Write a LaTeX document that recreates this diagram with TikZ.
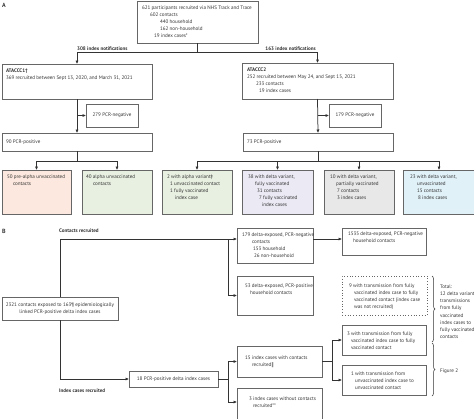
\documentclass[tikz,border=0pt]{standalone}
\usepackage{fontspec}
\setmainfont{PT Sans}
\newfontfamily\symfont{DejaVu Sans}
\usepackage{xcolor}
\usetikzlibrary{arrows.meta,decorations.pathreplacing,calc}

\definecolor{txt}{HTML}{333333}
\definecolor{edge}{HTML}{666666}
\definecolor{salmon}{HTML}{FCE8DE}
\definecolor{leaf}{HTML}{E8F0E1}
\definecolor{lilac}{HTML}{EBE9F4}
\definecolor{pale}{HTML}{E8E8E8}
\definecolor{sky}{HTML}{E0F1F8}

% box text: [top gap]{left gap}{width}{height}{lines}
\newcommand{\bt}[5][3]{\parbox[c][#4pt][t]{#3pt}{\vspace*{#1pt}\hspace*{#2pt}\begin{tabular}[t]{@{}l@{}}#5\end{tabular}}}
\newcommand{\ind}[1]{\hspace*{#1pt}}

\tikzset{
  box/.style={draw=edge, line width=0.75pt, anchor=north west, inner sep=0pt, outer sep=0pt,
    text=txt, font=\fontsize{5.1}{7.2}\selectfont},
  line/.style={draw=txt, line width=0.75pt},
  arr/.style={line, -{Latex[length=3.5pt,width=3.2pt]}},
  lbl/.style={text=txt, inner sep=0pt, font=\fontsize{5.1}{7.2}\selectfont\bfseries},
  note/.style={text=txt, inner sep=0pt, font=\fontsize{5.1}{7.2}\selectfont}
}

\begin{document}
\begin{tikzpicture}[x=1pt,y=-1pt]
    \useasboundingbox (0,0) rectangle (474,418);
    % Panneau A
    \node[lbl, anchor=base west, font=\fontsize{6}{7}\selectfont\bfseries] (pA) at (2,7) {A};
    \node[box] (top) at (137,1) {\bt{5}{121}{42}{621 participants recruited via NHS Track and Trace\\\ind{8}602 contacts\\\ind{18}440 household\\\ind{18}162 non-household\\\ind{12}19 index cases*}};
    \node[box] (atac1) at (2,64) {\bt{4}{150}{35}{\textbf{ATACCC1†}\\369 recruited between Sept 13, 2020, and March 31, 2021}};
    \node[box] (atac2) at (242,63) {\bt{5}{151}{36}{\textbf{ATACCC2}\\252 recruited between May 24, and Sept 15, 2021\\\ind{9}233 contacts\\\ind{12}19 index cases}};
    \node[lbl, anchor=base west] (n308) at (77,50) {308 index notifications};
    \node[lbl, anchor=base east] (n163) at (316,50) {163 index notifications};
    \node[box, minimum width=52pt, minimum height=23pt] (neg1) at (86,104) {279 PCR-negative};
    \node[box, minimum width=52pt, minimum height=23pt] (neg2) at (329,104) {179 PCR-negative};
    \node[box, minimum width=150pt, minimum height=18pt] (pos1) at (2,133) {\makebox[142pt][l]{90 PCR-positive}};
    \node[box, minimum width=150pt, minimum height=18pt] (pos2) at (243,133) {\makebox[142pt][l]{73 PCR-positive}};
    % Boites colorees
    \node[box, fill=salmon] (pre) at (2,170) {\bt{5}{69}{44}{50 pre-alpha unvaccinated\\\ind{6}contacts}};
    \node[box, fill=leaf] (alpha) at (82,170) {\bt{4}{70}{44}{40 alpha unvaccinated\\\ind{7}contacts}};
    \node[box, fill=leaf] (alpha2) at (162,170) {\bt{5}{70}{44}{2 with alpha variant‡\\\ind{3}1 unvaccinated contact\\\ind{3}1 fully vaccinated\\\ind{8}index case}};
    \node[box, fill=lilac] (dfull) at (242,170) {\bt{6}{71}{44}{38 with delta variant,\\\ind{7}fully vaccinated\\\ind{9}31 contacts\\\ind{11}7 fully vaccinated\\\ind{14}index cases}};
    \node[box, fill=pale] (dpart) at (324,170) {\bt{6}{70}{44}{10 with delta variant,\\\ind{6}partially vaccinated\\\ind{7}7 contacts\\\ind{7}3 index cases}};
    \node[box, fill=sky] (dun) at (403,170) {\bt{7}{72}{44}{23 with delta variant,\\\ind{7}unvaccinated\\\ind{7}15 contacts\\\ind{8}8 index cases}};
    % Liens A
    \draw[line] (top.south) -- ++(0,9) coordinate (jA);
    \draw[arr] (jA) -| (atac1.north);
    \draw[arr] (jA) -| (atac2.north);
    \draw[arr] (atac1.south) -- (pos1.north);
    \draw[arr] (neg1.west -| atac1.south) -- (neg1.west);
    \draw[arr] (atac2.south) -- (pos2.north);
    \draw[arr] (neg2.west -| atac2.south) -- (neg2.west);
    \draw[line] (pos1.south) -- ++(0,10) coordinate (jB);
    \draw[arr] (jB) -| (pre.north);
    \draw[arr] (jB) -| (alpha.north);
    \draw[line] (pos2.south) -- ++(0,10) coordinate (jC);
    \draw[arr] (jC) -| (alpha2.north);
    \draw[arr] (jC) -| (dfull.north);
    \draw[arr] (jC) -| (dpart.north);
    \draw[arr] (jC) -| (dun.north);
    % Panneau B
    \node[lbl, anchor=base west, font=\fontsize{6}{7}\selectfont\bfseries] (pB) at (2,233) {B};
    \node[box, minimum width=116pt, minimum height=23pt, align=center] (src) at (2,297) {2321 contacts exposed to 163¶ epidemiologically\\linked PCR-positive delta index cases};
    \node[box] (neg179) at (237,228) {\bt{5}{76}{35}{179 delta-exposed, PCR-negative\\\ind{10}contacts\\\ind{11}153 household\\\ind{12}26 non-household}};
    \node[box] (neg1535) at (342,228) {\bt[2]{6}{84}{27}{1535 delta-exposed, PCR-negative\\\ind{5}household contacts}};
    \node[box] (pos53) at (237,276) {\bt[6]{8}{76}{39}{53 delta-exposed, PCR-positive\\\ind{5}household contacts}};
    \node[box, dotted] (dot9) at (342,276) {\bt[6]{7}{85}{39}{9 with transmission from fully\\\ind{5}vaccinated index case to fully\\\ind{5}vaccinated contact (index case\\\ind{5}was not recruited)}};
    \node[box, minimum width=89pt, minimum height=16pt] (idx18) at (129,371) {18 PCR-positive delta index cases};
    \node[box] (with15) at (237,346) {\bt[8]{8}{85}{31}{15 index cases with contacts\\\ind{7}recruited{\symfont ‖}}};
    \node[box] (without3) at (237,388) {\bt[7]{12}{85}{34}{3 index cases without contacts\\\ind{4}recruited**}};
    \node[box] (ff3) at (342,325) {\bt[5]{5}{84}{30}{3 with transmission from fully\\\ind{4}vaccinated index case to fully\\\ind{4}vaccinated contact}};
    \node[box] (uu1) at (342,365) {\bt[5]{9}{84}{30}{1 with transmission from\\\ind{4}unvaccinated index case to\\\ind{4}unvaccinated contact}};
    \node[lbl, anchor=base west] (crec) at (59,232) {Contacts recruited};
    \node[lbl, anchor=base west] (irec) at (59,392) {Index cases recruited};
    \node[note, anchor=north west] (total) at (440,283) {\begin{tabular}{@{}l@{}}Total:\\12 delta variant\\transmissions\\from fully\\vaccinated\\index cases to\\fully vaccinated\\contacts\end{tabular}};
    \node[note, anchor=base west] (fig2) at (440,372) {Figure 2};
    % Liens B
    \coordinate (cTop) at ($(neg179.north west)+(0,11)$);
    \coordinate (jD) at ($(cTop)+(-9,0)$);
    \draw[arr] (src.north) |- (cTop);
    \draw[arr] (jD) |- (pos53.west);
    \draw[arr] (neg179.east |- cTop) -- (neg1535.west |- cTop);
    \draw[arr] (src.south) |- (idx18.west);
    \draw[line] (idx18.east) -- ++(10,0) coordinate (jE);
    \draw[arr] (jE) |- (with15.west);
    \draw[arr] (jE) |- ($(without3.north west)+(0,14)$);
    \draw[line] (with15.east) -- ++(10,0) coordinate (jF);
    \draw[arr] (jF) |- (ff3.west);
    \draw[arr] (jF) |- (uu1.west);
    % Accolades
    \draw[line, line width=0.5pt, decorate, decoration={brace, amplitude=3pt}] (432,276) -- (432,342); % total
    \draw[line, line width=0.5pt, decorate, decoration={brace, amplitude=3pt}] (432,343) -- (432,396); % figure 2
\end{tikzpicture}
\end{document}
